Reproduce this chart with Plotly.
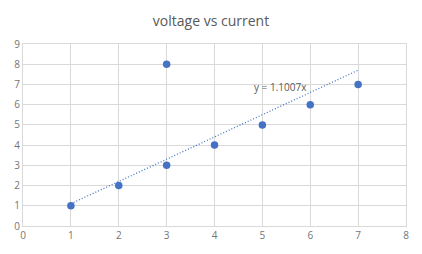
import plotly.graph_objects as go

current = [1, 2, 3, 3, 4, 5, 6, 7]
voltage = [1, 2, 3, 8, 4, 5, 6, 7]
slope = 1.1007
trend_x = [1, 7]
trend_y = [slope * x for x in trend_x]
x_ticks = list(range(0, 9))
y_ticks = list(range(0, 10))

fig = go.Figure()
fig.add_trace(go.Scatter(x=trend_x, y=trend_y, mode="lines",
                         line=dict(color="#4472C4", width=1.3, dash="1px,2px"),
                         hoverinfo="skip", showlegend=False))
fig.add_trace(go.Scatter(x=current, y=voltage, mode="markers",
                         marker=dict(color="#4472C4", size=7.5),
                         showlegend=False))
fig.add_annotation(x=5.38, y=6.88, text="y = 1.1007x", showarrow=False,
                   font=dict(family="Open Sans, Arial", size=10, color="#595959"))

axis_common = dict(showgrid=True, gridcolor="#D9D9D9", gridwidth=1,
                   showline=True, linecolor="#D9D9D9", linewidth=1,
                   zeroline=False, ticks="", automargin=False,
                   tickfont=dict(family="Open Sans, Arial", size=10, color="#757575"))
fig.update_xaxes(range=[0, 8], tickvals=x_ticks, mirror=True, **axis_common)
fig.update_yaxes(range=[0, 9], tickvals=y_ticks, mirror=True, **axis_common)

fig.update_layout(
    width=422, height=254,
    margin=dict(l=23, r=16, t=44, b=28),
    paper_bgcolor="white", plot_bgcolor="white",
    title=dict(text="voltage vs current", x=0.5, xanchor="center",
               y=1 - 21 / 254, yanchor="middle",
               font=dict(family="Open Sans, Arial", size=14, color="#595959")),
)
fig.write_html("out.html")
